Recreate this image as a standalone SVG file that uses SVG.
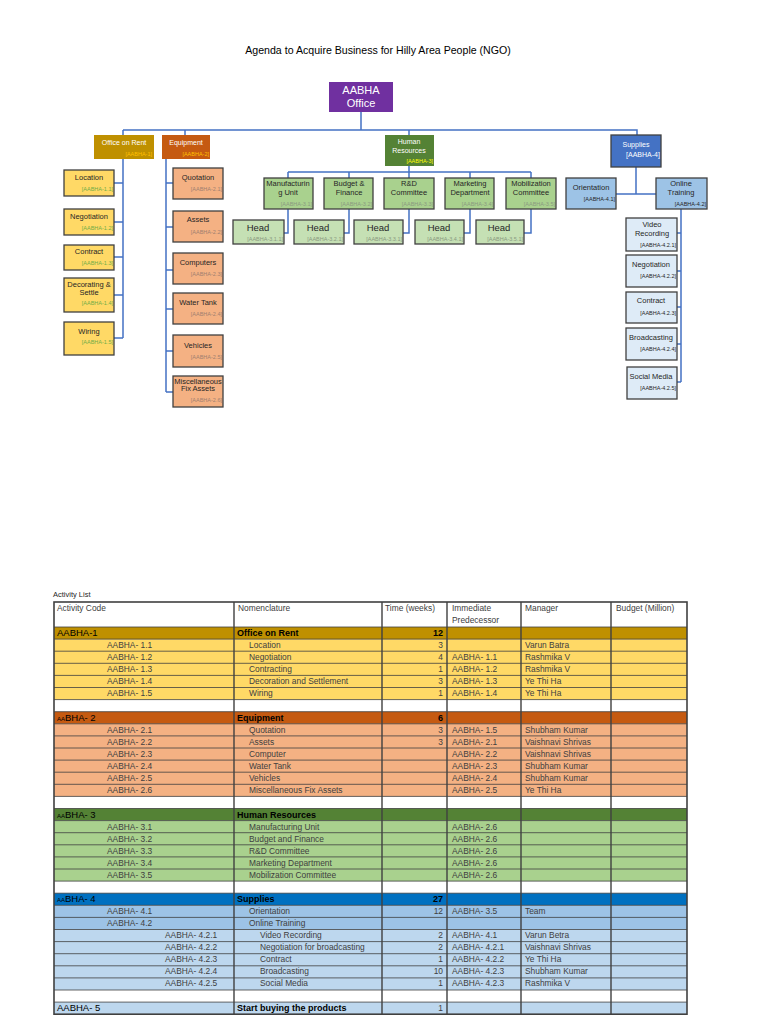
<svg xmlns="http://www.w3.org/2000/svg" width="768" height="1024" viewBox="0 0 768 1024">
<style>
text{font-family:"Liberation Sans",Arial,sans-serif;}
.conn{stroke:#4472C4;stroke-width:1.5;fill:none;}
.bx{stroke:#404040;stroke-width:1.3;}
.nt{font-size:7.5px;fill:#262626;text-anchor:middle;}
.nw{font-size:7px;fill:#ffffff;text-anchor:middle;}
.cd{font-size:5.5px;text-anchor:end;}
.g1{fill:#70AD47;}
.g2{fill:#A08070;}
.g3{fill:#8A9A80;}
.g4{fill:#262626;}
.hd{font-size:9.5px;fill:#262626;text-anchor:middle;}
.tt{font-size:8.4px;fill:#404040;}
.th{font-size:9.5px;fill:#000000;}
.tb{font-size:9px;fill:#000000;font-weight:bold;}
.tr{text-anchor:end;}
.gl{stroke:#404040;stroke-width:0.8;}
.vl{stroke:#404040;stroke-width:1.4;}
</style>

<text x="378" y="54" font-size="10.6" fill="#000" text-anchor="middle">Agenda to Acquire Business for Hilly Area People (NGO)</text>

<g id="connectors">
  <path class="conn" d="M361 112V130M123 130H637V136M123 130V136M185 130V136M409 130V136"/>
  <path class="conn" d="M123 159V338M114 183H123M114 222H123M114 257H123M114 295H123M114 338H123"/>
  <path class="conn" d="M166 159V392M166 183H173M166 227H173M166 270H173M166 309H173M166 351H173M166 392H173"/>
  <path class="conn" d="M409 166V172M288 172H531"/>
  <path class="conn" d="M288 172V233H284M349 172V233H344M409 172V233H403M470 172V233H464M531 172V233H524"/>
  <path class="conn" d="M636 167V194M616 194H656"/>
  <path class="conn" d="M681 209V382M677 233H681M677 271H681M677 307H681M677 344H681M677 382H681"/>
</g>

<g id="aabha-office">
  <rect x="329" y="82" width="64" height="30" fill="#7030A0"/>
  <text x="361" y="94" font-size="11" fill="#fff" text-anchor="middle">AABHA</text>
  <text x="361" y="107" font-size="11" fill="#fff" text-anchor="middle">Office</text>
</g>

<g id="office-on-rent">
  <rect x="94" y="135" width="60" height="24" fill="#BF9000"/>
  <text class="nw" x="124" y="145">Office on Rent</text>
  <text class="cd" x="152" y="156" fill="#FFC000">[AABHA-1]</text>
</g>
<g id="equipment">
  <rect x="162" y="135" width="48" height="24" fill="#C55A11"/>
  <text class="nw" x="186" y="145" font-size="7.5">Equipment</text>
  <text class="cd" x="209" y="156" fill="#FFC000">[AABHA-2]</text>
</g>
<g id="human-resources">
  <rect x="385" y="135" width="49" height="31" fill="#548235"/>
  <text class="nw" x="409" y="144">Human</text>
  <text class="nw" x="409" y="153">Resources</text>
  <text class="cd" x="433" y="163" fill="#FFFF00">[AABHA-3]</text>
</g>
<g id="supplies">
  <rect class="bx" x="611" y="135" width="50" height="32" fill="#4472C4"/>
  <text class="nw" x="636" y="147">Supplies</text>
  <text class="nw" x="643" y="157" font-size="6">[AABHA-4]</text>
</g>

<!-- Office on Rent children -->
<g id="location"><rect class="bx" x="64" y="170" width="50" height="26" fill="#FFD966"/><text class="nt" x="89" y="180">Location</text><text class="cd g1" x="113" y="191">[AABHA-1.1]</text></g>
<g id="negotiation"><rect class="bx" x="64" y="209" width="50" height="26" fill="#FFD966"/><text class="nt" x="89" y="219">Negotiation</text><text class="cd g1" x="113" y="230">[AABHA-1.2]</text></g>
<g id="contract"><rect class="bx" x="64" y="245" width="50" height="25" fill="#FFD966"/><text class="nt" x="89" y="254">Contract</text><text class="cd g1" x="113" y="265">[AABHA-1.3]</text></g>
<g id="decorating"><rect class="bx" x="64" y="278" width="50" height="34" fill="#FFD966"/><text class="nt" x="89" y="287" font-size="6.5">Decorating &amp;</text><text class="nt" x="89" y="295" font-size="6.5">Settle</text><text class="cd g1" x="113" y="305">[AABHA-1.4]</text></g>
<g id="wiring"><rect class="bx" x="64" y="322" width="50" height="33" fill="#FFD966"/><text class="nt" x="89" y="334" font-size="6.5">Wiring</text><text class="cd g1" x="113" y="344">[AABHA-1.5]</text></g>

<!-- Equipment children -->
<g id="quotation"><rect class="bx" x="173" y="168" width="50" height="31" fill="#F4B183"/><text class="nt" x="198" y="180">Quotation</text><text class="cd g2" x="222" y="191">[AABHA-2.1]</text></g>
<g id="assets"><rect class="bx" x="173" y="211" width="50" height="31" fill="#F4B183"/><text class="nt" x="198" y="222">Assets</text><text class="cd g2" x="222" y="234">[AABHA-2.2]</text></g>
<g id="computers"><rect class="bx" x="173" y="253" width="50" height="31" fill="#F4B183"/><text class="nt" x="198" y="265">Computers</text><text class="cd g2" x="222" y="276">[AABHA-2.3]</text></g>
<g id="water-tank"><rect class="bx" x="173" y="293" width="50" height="31" fill="#F4B183"/><text class="nt" x="198" y="305">Water Tank</text><text class="cd g2" x="222" y="316">[AABHA-2.4]</text></g>
<g id="vehicles"><rect class="bx" x="173" y="335" width="50" height="32" fill="#F4B183"/><text class="nt" x="198" y="348">Vehicles</text><text class="cd g2" x="222" y="359">[AABHA-2.5]</text></g>
<g id="misc-assets"><rect class="bx" x="173" y="376" width="50" height="31" fill="#F4B183"/><text class="nt" x="198" y="384" font-size="6.5">Miscellaneous</text><text class="nt" x="198" y="391" font-size="6.5">Fix Assets</text><text class="cd g2" x="222" y="402">[AABHA-2.6]</text></g>

<!-- HR children -->
<g id="manufacturing"><rect class="bx" x="264" y="178" width="49" height="31" fill="#A9D18E"/><text class="nt" x="288" y="186" font-size="6.8">Manufacturin</text><text class="nt" x="288" y="195" font-size="6.8">g Unit</text><text class="cd g3" x="312" y="206">[AABHA-3.1]</text></g>
<g id="budget"><rect class="bx" x="324" y="178" width="49" height="31" fill="#A9D18E"/><text class="nt" x="349" y="186" font-size="6.8">Budget &amp;</text><text class="nt" x="349" y="195" font-size="6.8">Finance</text><text class="cd g3" x="372" y="206">[AABHA-3.2]</text></g>
<g id="rnd"><rect class="bx" x="384" y="178" width="50" height="31" fill="#A9D18E"/><text class="nt" x="409" y="186" font-size="6.8">R&amp;D</text><text class="nt" x="409" y="195" font-size="6.8">Committee</text><text class="cd g3" x="433" y="206">[AABHA-3.3]</text></g>
<g id="marketing"><rect class="bx" x="445" y="178" width="49" height="31" fill="#A9D18E"/><text class="nt" x="470" y="186" font-size="6.8">Marketing</text><text class="nt" x="470" y="195" font-size="6.8">Department</text><text class="cd g3" x="493" y="206">[AABHA-3.4]</text></g>
<g id="mobilization"><rect class="bx" x="506" y="178" width="50" height="31" fill="#A9D18E"/><text class="nt" x="531" y="186" font-size="6.8">Mobilization</text><text class="nt" x="531" y="195" font-size="6.8">Committee</text><text class="cd g3" x="555" y="206">[AABHA-3.5]</text></g>

<!-- Heads -->
<g id="head-1"><rect class="bx" x="233" y="220" width="51" height="24" fill="#C5E0B4"/><text class="hd" x="258" y="231">Head</text><text class="cd g3" x="283" y="241">[AABHA-3.1.1]</text></g>
<g id="head-2"><rect class="bx" x="294" y="220" width="50" height="24" fill="#C5E0B4"/><text class="hd" x="318" y="231">Head</text><text class="cd g3" x="343" y="241">[AABHA-3.2.1]</text></g>
<g id="head-3"><rect class="bx" x="354" y="220" width="49" height="24" fill="#C5E0B4"/><text class="hd" x="378" y="231">Head</text><text class="cd g3" x="402" y="241">[AABHA-3.3.1]</text></g>
<g id="head-4"><rect class="bx" x="415" y="220" width="49" height="24" fill="#C5E0B4"/><text class="hd" x="439" y="231">Head</text><text class="cd g3" x="463" y="241">[AABHA-3.4.1]</text></g>
<g id="head-5"><rect class="bx" x="476" y="220" width="48" height="24" fill="#C5E0B4"/><text class="hd" x="499" y="231">Head</text><text class="cd g3" x="523" y="241">[AABHA-3.5.1]</text></g>

<!-- Supplies children -->
<g id="orientation"><rect class="bx" x="566" y="178" width="50" height="31" fill="#9DC3E6"/><text class="nt" x="591" y="190" font-size="6.8">Orientation</text><text class="cd g4" x="615" y="201" font-size="6.2">[AABHA-4.1]</text></g>
<g id="online-training"><rect class="bx" x="656" y="178" width="51" height="31" fill="#9DC3E6"/><text class="nt" x="681" y="186" font-size="6.8">Online</text><text class="nt" x="681" y="195" font-size="6.8">Training</text><text class="cd g4" x="706" y="206" font-size="6.2">[AABHA-4.2]</text></g>
<g id="video-recording"><rect class="bx" x="626" y="218" width="51" height="33" fill="#DEEBF7"/><text class="nt" x="652" y="227" font-size="6.8">Video</text><text class="nt" x="652" y="236" font-size="6.8">Recording</text><text class="cd g4" x="676" y="247" font-size="6.2">[AABHA-4.2.1]</text></g>
<g id="negotiation-4"><rect class="bx" x="626" y="255" width="51" height="32" fill="#DEEBF7"/><text class="nt" x="651" y="267" font-size="6.8">Negotiation</text><text class="cd g4" x="676" y="278" font-size="6.2">[AABHA-4.2.2]</text></g>
<g id="contract-4"><rect class="bx" x="626" y="292" width="51" height="31" fill="#DEEBF7"/><text class="nt" x="651" y="303" font-size="6.8">Contract</text><text class="cd g4" x="676" y="315" font-size="6.2">[AABHA-4.2.3]</text></g>
<g id="broadcasting"><rect class="bx" x="626" y="328" width="51" height="32" fill="#DEEBF7"/><text class="nt" x="651" y="340" font-size="6.8">Broadcasting</text><text class="cd g4" x="676" y="351" font-size="6.2">[AABHA-4.2.4]</text></g>
<g id="social-media"><rect class="bx" x="627" y="367" width="50" height="32" fill="#DEEBF7"/><text class="nt" x="651" y="379" font-size="6.8">Social Media</text><text class="cd g4" x="676" y="390" font-size="6.2">[AABHA-4.2.5]</text></g>

<!-- Activity table -->
<g id="activity-table">
  <text x="53" y="597" font-size="7.5" fill="#262626">Activity List</text>
  <rect x="54" y="602" width="633" height="25" fill="#fff"/>
  <rect x="54" y="627" width="633" height="12.1" fill="#BF9000"/>
  <rect x="54" y="639.1" width="633" height="60.5" fill="#FFD966"/>
  <rect x="54" y="711.7" width="633" height="12.1" fill="#C55A11"/>
  <rect x="54" y="723.8" width="633" height="72.6" fill="#F4B183"/>
  <rect x="54" y="808.5" width="633" height="12.1" fill="#548235"/>
  <rect x="54" y="820.6" width="633" height="60.5" fill="#A9D18E"/>
  <rect x="54" y="893.2" width="633" height="12.1" fill="#0070C0"/>
  <rect x="54" y="905.3" width="633" height="24.2" fill="#9DC3E6"/>
  <rect x="54" y="929.5" width="633" height="60.5" fill="#BDD7EE"/>
  <rect x="54" y="1002.1" width="633" height="12.1" fill="#BDD7EE"/>

  <path class="gl" d="M54 627H687M54 639.1H687M54 651.2H687M54 663.3H687M54 675.4H687M54 687.5H687M54 699.6H687M54 711.7H687M54 723.8H687M54 735.9H687M54 748H687M54 760.1H687M54 772.2H687M54 784.3H687M54 796.4H687M54 808.5H687M54 820.6H687M54 832.7H687M54 844.8H687M54 856.9H687M54 869H687M54 881.1H687M54 893.2H687M54 905.3H687M54 917.4H687M54 929.5H687M54 941.6H687M54 953.7H687M54 965.8H687M54 977.9H687M54 990H687M54 1002.1H687"/>
  <path class="vl" d="M234 602V1014.2M382 602V1014.2M447 602V1014.2M521 602V1014.2M611 602V1014.2"/>
  <rect x="54" y="602" width="633" height="412.2" fill="none" stroke="#404040" stroke-width="1.6"/>

  <text class="tt" x="57" y="611">Activity Code</text>
  <text class="tt" x="238" y="611">Nomenclature</text>
  <text class="tt" x="385" y="611">Time (weeks)</text>
  <text class="tt" x="452" y="611">Immediate</text>
  <text class="tt" x="452" y="623">Predecessor</text>
  <text class="tt" x="525" y="611">Manager</text>
  <text class="tt" x="616" y="611">Budget (Million)</text>

  <text class="th" x="57" y="636">AABHA-1</text>
  <text class="tb" x="237" y="636">Office on Rent</text>
  <text class="tb tr" x="443" y="636">12</text>
  <text class="tt" x="107" y="648">AABHA- 1.1</text><text class="tt" x="249" y="648">Location</text><text class="tt tr" x="443" y="648">3</text><text class="tt" x="525" y="648">Varun Batra</text>
  <text class="tt" x="107" y="660">AABHA- 1.2</text><text class="tt" x="249" y="660">Negotiation</text><text class="tt tr" x="443" y="660">4</text><text class="tt" x="452" y="660">AABHA- 1.1</text><text class="tt" x="525" y="660">Rashmika V</text>
  <text class="tt" x="107" y="672">AABHA- 1.3</text><text class="tt" x="249" y="672">Contracting</text><text class="tt tr" x="443" y="672">1</text><text class="tt" x="452" y="672">AABHA- 1.2</text><text class="tt" x="525" y="672">Rashmika V</text>
  <text class="tt" x="107" y="684">AABHA- 1.4</text><text class="tt" x="249" y="684">Decoration and Settlement</text><text class="tt tr" x="443" y="684">3</text><text class="tt" x="452" y="684">AABHA- 1.3</text><text class="tt" x="525" y="684">Ye Thi Ha</text>
  <text class="tt" x="107" y="696">AABHA- 1.5</text><text class="tt" x="249" y="696">Wiring</text><text class="tt tr" x="443" y="696">1</text><text class="tt" x="452" y="696">AABHA- 1.4</text><text class="tt" x="525" y="696">Ye Thi Ha</text>

  <text class="th" x="57" y="721"><tspan font-size="6">AA</tspan>BHA- 2</text>
  <text class="tb" x="237" y="721">Equipment</text>
  <text class="tb tr" x="443" y="721">6</text>
  <text class="tt" x="107" y="733">AABHA- 2.1</text><text class="tt" x="249" y="733">Quotation</text><text class="tt tr" x="443" y="733">3</text><text class="tt" x="452" y="733">AABHA- 1.5</text><text class="tt" x="525" y="733">Shubham Kumar</text>
  <text class="tt" x="107" y="745">AABHA- 2.2</text><text class="tt" x="249" y="745">Assets</text><text class="tt tr" x="443" y="745">3</text><text class="tt" x="452" y="745">AABHA- 2.1</text><text class="tt" x="525" y="745">Vaishnavi Shrivas</text>
  <text class="tt" x="107" y="757">AABHA- 2.3</text><text class="tt" x="249" y="757">Computer</text><text class="tt" x="452" y="757">AABHA- 2.2</text><text class="tt" x="525" y="757">Vaishnavi Shrivas</text>
  <text class="tt" x="107" y="769">AABHA- 2.4</text><text class="tt" x="249" y="769">Water Tank</text><text class="tt" x="452" y="769">AABHA- 2.3</text><text class="tt" x="525" y="769">Shubham Kumar</text>
  <text class="tt" x="107" y="781">AABHA- 2.5</text><text class="tt" x="249" y="781">Vehicles</text><text class="tt" x="452" y="781">AABHA- 2.4</text><text class="tt" x="525" y="781">Shubham Kumar</text>
  <text class="tt" x="107" y="793">AABHA- 2.6</text><text class="tt" x="249" y="793">Miscellaneous Fix Assets</text><text class="tt" x="452" y="793">AABHA- 2.5</text><text class="tt" x="525" y="793">Ye Thi Ha</text>

  <text class="th" x="57" y="818"><tspan font-size="6">AA</tspan>BHA- 3</text>
  <text class="tb" x="237" y="818">Human Resources</text>
  <text class="tt" x="107" y="830">AABHA- 3.1</text><text class="tt" x="249" y="830">Manufacturing Unit</text><text class="tt" x="452" y="830">AABHA- 2.6</text>
  <text class="tt" x="107" y="842">AABHA- 3.2</text><text class="tt" x="249" y="842">Budget and Finance</text><text class="tt" x="452" y="842">AABHA- 2.6</text>
  <text class="tt" x="107" y="854">AABHA- 3.3</text><text class="tt" x="249" y="854">R&amp;D Committee</text><text class="tt" x="452" y="854">AABHA- 2.6</text>
  <text class="tt" x="107" y="866">AABHA- 3.4</text><text class="tt" x="249" y="866">Marketing Department</text><text class="tt" x="452" y="866">AABHA- 2.6</text>
  <text class="tt" x="107" y="878">AABHA- 3.5</text><text class="tt" x="249" y="878">Mobilization Committee</text><text class="tt" x="452" y="878">AABHA- 2.6</text>

  <text class="th" x="57" y="902"><tspan font-size="6">AA</tspan>BHA- 4</text>
  <text class="tb" x="237" y="902">Supplies</text>
  <text class="tb tr" x="443" y="902">27</text>
  <text class="tt" x="107" y="914">AABHA- 4.1</text><text class="tt" x="249" y="914">Orientation</text><text class="tt tr" x="443" y="914">12</text><text class="tt" x="452" y="914">AABHA- 3.5</text><text class="tt" x="525" y="914">Team</text>
  <text class="tt" x="107" y="926">AABHA- 4.2</text><text class="tt" x="249" y="926">Online Training</text>
  <text class="tt" x="165" y="938">AABHA- 4.2.1</text><text class="tt" x="260" y="938">Video Recording</text><text class="tt tr" x="443" y="938">2</text><text class="tt" x="452" y="938">AABHA- 4.1</text><text class="tt" x="525" y="938">Varun Betra</text>
  <text class="tt" x="165" y="950">AABHA- 4.2.2</text><text class="tt" x="260" y="950">Negotiation for broadcasting</text><text class="tt tr" x="443" y="950">2</text><text class="tt" x="452" y="950">AABHA- 4.2.1</text><text class="tt" x="525" y="950">Vaishnavi Shrivas</text>
  <text class="tt" x="165" y="962">AABHA- 4.2.3</text><text class="tt" x="260" y="962">Contract</text><text class="tt tr" x="443" y="962">1</text><text class="tt" x="452" y="962">AABHA- 4.2.2</text><text class="tt" x="525" y="962">Ye Thi Ha</text>
  <text class="tt" x="165" y="974">AABHA- 4.2.4</text><text class="tt" x="260" y="974">Broadcasting</text><text class="tt tr" x="443" y="974">10</text><text class="tt" x="452" y="974">AABHA- 4.2.3</text><text class="tt" x="525" y="974">Shubham Kumar</text>
  <text class="tt" x="165" y="986">AABHA- 4.2.5</text><text class="tt" x="260" y="986">Social Media</text><text class="tt tr" x="443" y="986">1</text><text class="tt" x="452" y="986">AABHA- 4.2.3</text><text class="tt" x="525" y="986">Rashmika V</text>

  <text class="th" x="57" y="1011">AABHA- 5</text>
  <text class="tb" x="237" y="1011">Start buying the products</text>
  <text class="tt tr" x="443" y="1011">1</text>
</g>
</svg>
